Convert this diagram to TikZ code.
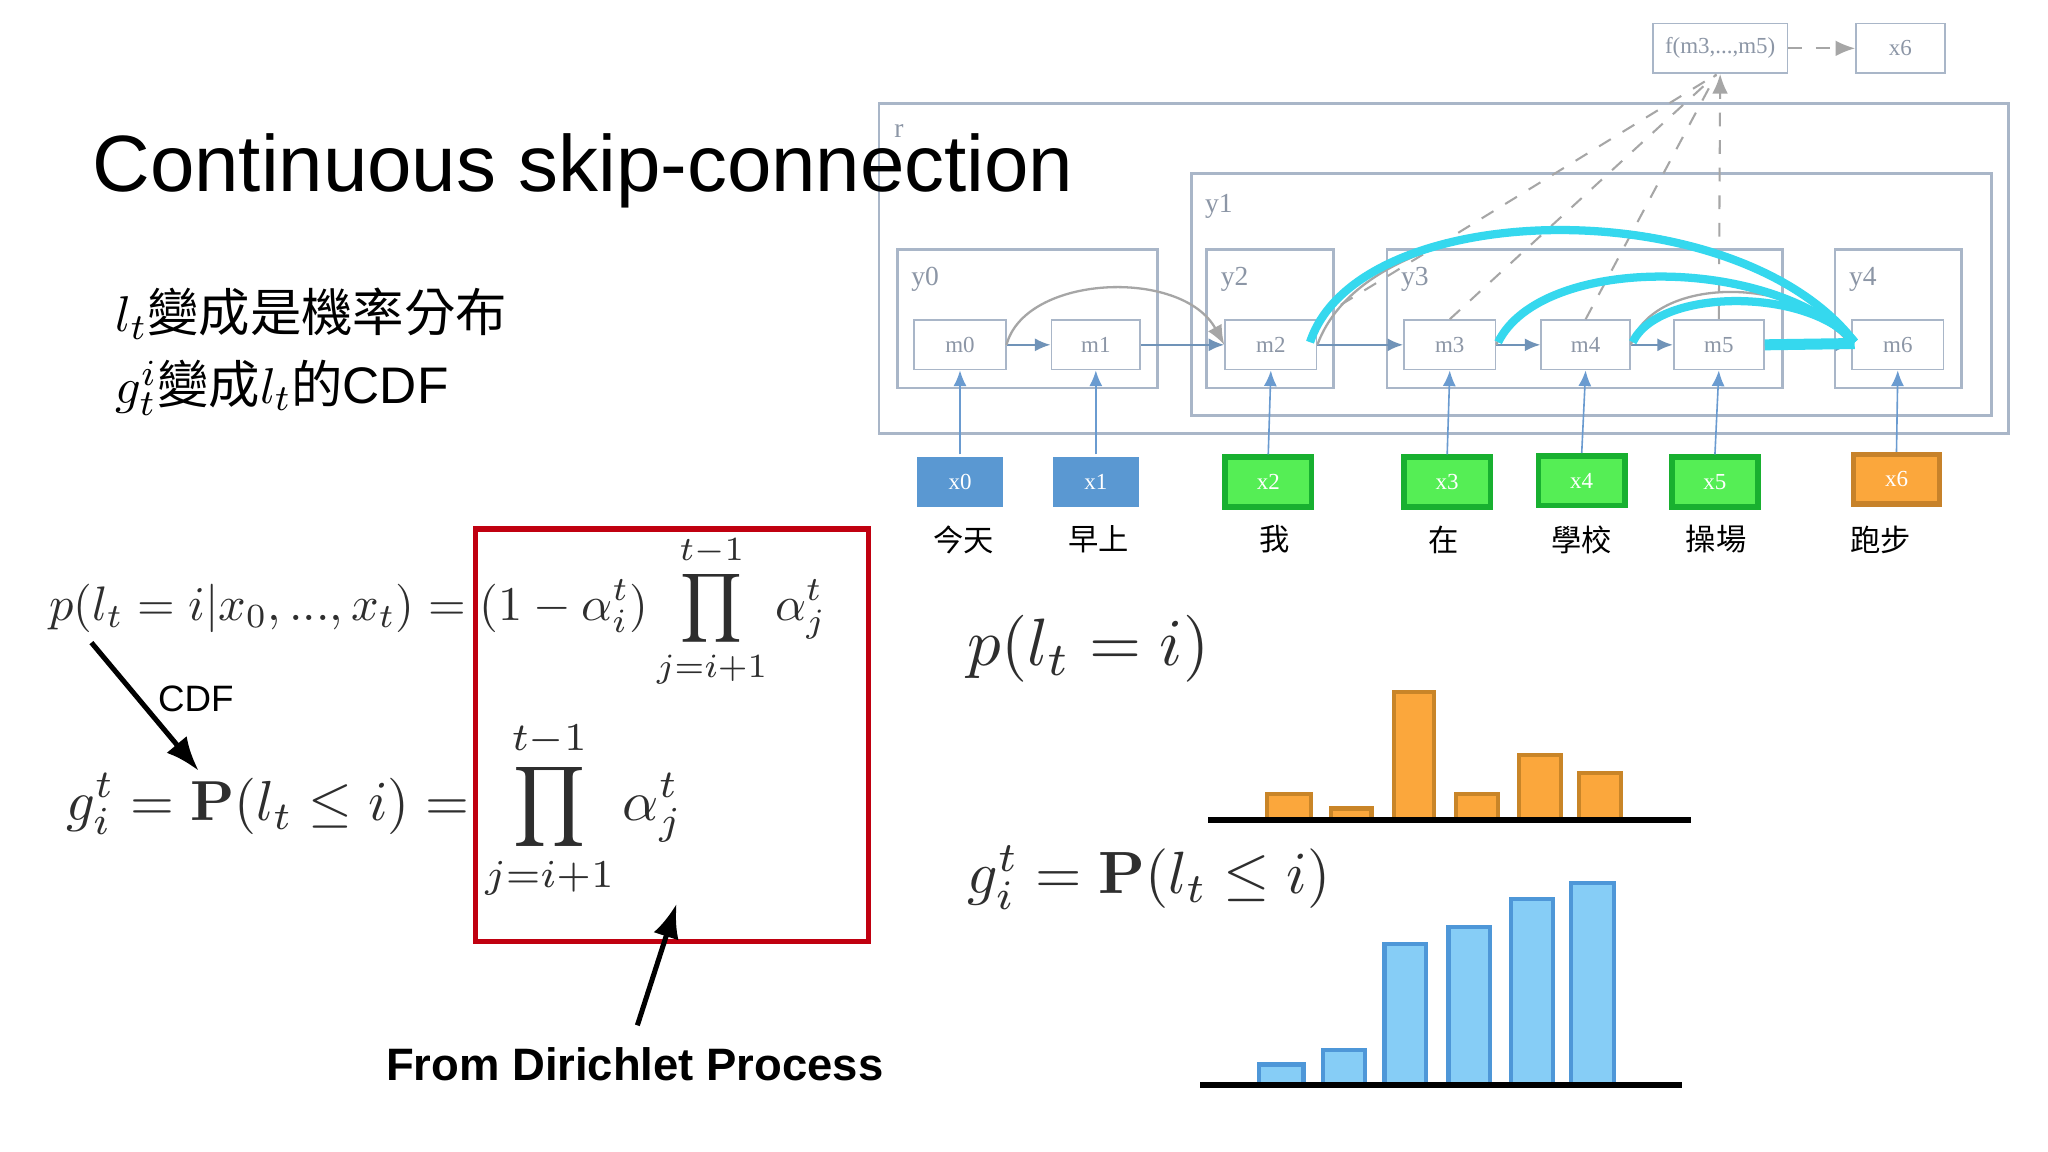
\documentclass[tikz,border=0pt]{standalone}
\usepackage{amsmath}
\usepackage{fontspec}
\setmainfont{Liberation Sans}
\newfontfamily\cjk{Noto Sans CJK TC}
\newfontfamily\serifd{Liberation Serif}
\DeclareMathAlphabet{\mathbfl}{OT1}{cmr}{bx}{n}
\usetikzlibrary{arrows.meta}
\definecolor{lg}{HTML}{A9B6C8}
\definecolor{ltxt}{HTML}{8C96A6}
\definecolor{ablue}{HTML}{6A9BD0}
\definecolor{cy}{HTML}{35D8EE}
\definecolor{xblue}{HTML}{5A98D2}
\definecolor{xgreen}{HTML}{55EE55}
\definecolor{xgreenb}{HTML}{18B030}
\definecolor{xor}{HTML}{FBA73C}
\definecolor{xorb}{HTML}{C7822A}
\definecolor{obar}{HTML}{FBA73C}
\definecolor{obarb}{HTML}{C98528}
\definecolor{bbar}{HTML}{86CDF6}
\definecolor{bbarb}{HTML}{4E97D8}
\definecolor{dred}{HTML}{C00010}
\tikzset{
  mbox/.style={draw=lg, line width=0.35pt, fill=white, minimum width=#1, minimum height=3.8mm, inner sep=0pt, font=\serifd\fontsize{5}{6}\selectfont, text=ltxt},
  mbox/.default=7mm,
  cont/.style={draw=lg, line width=0.6pt},
  clab/.style={font=\serifd\fontsize{6}{7}\selectfont, text=ltxt, anchor=north west, inner sep=0pt},
  xb/.style={minimum width=6.6mm, minimum height=3.8mm, inner sep=0pt, font=\serifd\fontsize{5}{6}\selectfont, text=white, line width=1.2pt},
  fl/.style={-{Latex[length=1.2mm,width=1mm]}, draw=ablue, line width=0.35pt},
  gl/.style={-{Latex[length=1.2mm,width=1mm]}, draw=ablue!70!gray, line width=0.5pt},
  garc/.style={draw=gray!70, line width=0.5pt},
  carc/.style={draw=cy, line width=1.8pt},
  dsh/.style={draw=gray!70, dashed, line width=0.45pt},
  wlab/.style={font=\cjk\fontsize{6.6}{7}\selectfont},
  obarst/.style={fill=obar, draw=obarb, line width=0.9pt},
  bbarst/.style={fill=bbar, draw=bbarb, line width=0.9pt},
  fm/.style={inner sep=0pt, text=black!82},
}
\begin{document}
\begin{tikzpicture}[x=0.1mm,y=-0.1mm]
\useasboundingbox[fill=white] (0,0) rectangle (1568,882);
% containers
\draw[cont] (673,79) rectangle (1538,332);
\draw[cont] (912,133) rectangle (1525,318);
\draw[cont] (687,191) rectangle (886,297);
\draw[cont] (924,191) rectangle (1021,297);
\draw[cont] (1062,191) rectangle (1365,297);
\draw[cont] (1405,191) rectangle (1502,297);
\node[clab] (lr) at (684,95) {r};
\node[clab] (ly1) at (922,148) {y1};
\node[clab] (ly0) at (697,204) {y0};
\node[clab] (ly2) at (934,204) {y2};
\node[clab] (ly3) at (1072,204) {y3};
\node[clab] (ly4) at (1415,204) {y4};
% title
\node[anchor=west, inner sep=0pt, font=\fontsize{17.4}{20}\selectfont] (title) at (70,131) {Continuous skip-connection};
% m nodes
\node[mbox] (m0) at (735,264) {m0};
\node[mbox=6.8mm] (m1) at (839,264) {m1};
\node[mbox] (m2) at (973,264) {m2};
\node[mbox] (m3) at (1110,264) {m3};
\node[mbox=6.8mm] (m4) at (1214,264) {m4};
\node[mbox=6.9mm] (m5) at (1316,264) {m5};
\node[mbox] (m6) at (1453,264) {m6};
\node[mbox=10.3mm] (f) at (1317,37) {f(m3,...,m5)};
\node[mbox=6.8mm] (x6t) at (1455,37) {x6};
% x boxes
\node[xb, fill=xblue] (x0) at (735,369) {x0};
\node[xb, fill=xblue] (x1) at (839,369) {x1};
\node[xb, fill=xgreen, draw=xgreenb] (x2) at (971,369) {x2};
\node[xb, fill=xgreen, draw=xgreenb] (x3) at (1108,369) {x3};
\node[xb, fill=xgreen, draw=xgreenb] (x4) at (1211,368) {x4};
\node[xb, fill=xgreen, draw=xgreenb] (x5) at (1313,369) {x5};
\node[xb, fill=xor, draw=xorb] (x6) at (1452,367) {x6};
\node[wlab] (w0) at (738,413) {今天};
\node[wlab] (w1) at (841,413) {早上};
\node[wlab] (w2) at (976,413) {我};
\node[wlab] (w3) at (1105,413) {在};
\node[wlab] (w4) at (1211,413) {學校};
\node[wlab] (w5) at (1314,413) {操場};
\node[wlab] (w6) at (1440,413) {跑步};
% vertical inputs
\foreach \i in {0,...,6} {\draw[fl] (x\i.north) -- (m\i.south);}
% chain
\draw[gl] (m0) -- (m1);
\draw[gl] (m1) -- (m2);
\draw[gl] (m2) -- (m3);
\draw[gl] (m3) -- (m4);
\draw[gl] (m4) -- (m5);
\draw[gl] (m5) -- (m6);
\draw[garc,-{Latex[length=1.5mm,width=1.2mm]}] (m0.east) .. controls (785,210) and (905,205) .. (m2.west);
% dashed to f
\coordinate (fs) at (1314,57);
\draw[dsh] (m2.north east) -- (fs);
\draw[dsh] (m3.north) -- (fs);
\draw[dsh] (m4.north) -- (fs);
\draw[dsh,-{Latex[length=1.5mm,width=1.2mm]}] (m5.north) -- (f.south);
\draw[dsh,-{Latex[length=1.5mm,width=1.2mm]}] (f.east) -- (x6t.west);
% grey arcs
\draw[garc] (m2.east) .. controls (1050,150) and (1330,140) .. (m6.west);
\draw[garc] (m3.east) .. controls (1170,195) and (1360,195) .. (m6.west);
\draw[garc] (m4.east) .. controls (1265,210) and (1380,210) .. (m6.west);
% cyan arcs
\draw[carc] (1003,262) .. controls (1040,150) and (1330,145) .. (1420,262);
\draw[carc] (1147,262) .. controls (1180,195) and (1355,195) .. (1420,262);
\draw[carc] (1250,262) .. controls (1270,220) and (1385,220) .. (1420,262);
\draw[carc, line width=2.4pt] (m5.east) -- (1420,263);
% left texts
\node[anchor=west, inner sep=0pt, font=\fontsize{11.2}{12}\selectfont] (t1) at (88,240) {$l_t$\cjk 變成是機率分布};
\node[anchor=west, inner sep=0pt, font=\fontsize{11.2}{12}\selectfont] (t2) at (88,297) {$g_t^i$\cjk 變成\normalfont$l_t$\cjk 的\normalfont CDF};
% formulas
\node[fm, anchor=west] (f1) at (37,468) {\resizebox{59.5mm}{!}{$\displaystyle p(l_t=i|x_0,...,x_t)=(1-\alpha_i^t)\prod_{j=i+1}^{t-1}\alpha_j^t$}};
\node[fm, anchor=west] (f2) at (50,620) {\resizebox{47.2mm}{!}{$\displaystyle g_i^t=\mathbfl{P}(l_t\le i)=\prod_{j=i+1}^{t-1}\alpha_j^t$}};
\draw[draw=dred, line width=1.1pt] (364,405) rectangle (665,721);
\coordinate (ca) at (70,492);
\coordinate (cb) at (152,590);
\draw[line width=1.1pt, -{Latex[length=2.6mm,width=2mm]}] (ca) -- (cb);
\node[font=\fontsize{8}{9}\selectfont, inner sep=0pt] (cdf) at (150,535) {CDF};
\coordinate (da) at (488,785);
\coordinate (db) at (518,692);
\draw[line width=1.1pt, -{Latex[length=2.6mm,width=2mm]}] (da) -- (db);
\node[font=\bfseries\fontsize{9.9}{10}\selectfont, inner sep=0pt] (dp) at (486,815) {From Dirichlet Process};
% right formulas
\node[fm, anchor=west] (rf1) at (740,497) {\resizebox{18.5mm}{!}{$p(l_t=i)$}};
\node[fm, anchor=west] (rf2) at (740,672) {\resizebox{27.8mm}{!}{$g_i^t=\mathbfl{P}(l_t\le i)$}};
% orange bars
\draw[obarst] (970,628) rectangle (1004,608);
\draw[obarst] (1019,628) rectangle (1050,619);
\draw[obarst] (1067,628) rectangle (1098,530);
\draw[obarst] (1115,628) rectangle (1147,608);
\draw[obarst] (1163,628) rectangle (1195,578);
\draw[obarst] (1209,628) rectangle (1241,592);
\draw[line width=1.3pt] (925,628) -- (1295,628);
% blue bars
\draw[bbarst] (964,831) rectangle (998,815);
\draw[bbarst] (1013,831) rectangle (1045,804);
\draw[bbarst] (1060,831) rectangle (1092,723);
\draw[bbarst] (1109,831) rectangle (1141,710);
\draw[bbarst] (1157,831) rectangle (1189,688);
\draw[bbarst] (1203,831) rectangle (1236,676);
\draw[line width=1.3pt] (919,831) -- (1288,831);
\end{tikzpicture}
\end{document}
